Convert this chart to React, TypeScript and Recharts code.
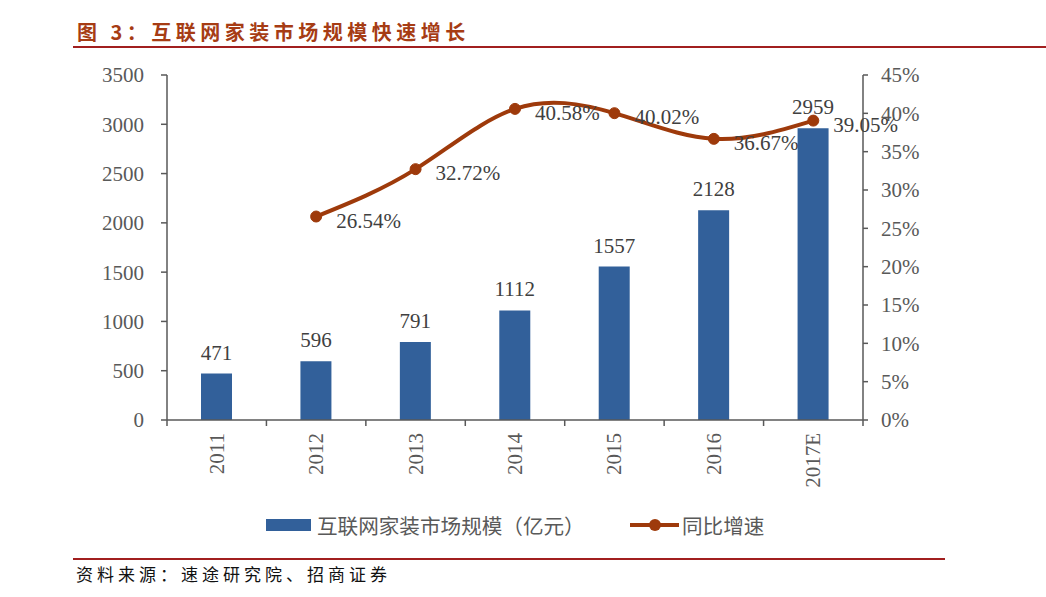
import React from 'react';
import { ComposedChart, Bar, Line, XAxis, YAxis, LabelList } from 'recharts';

// Data
const years = ['2011', '2012', '2013', '2014', '2015', '2016', '2017E'];
const marketSize = [471, 596, 791, 1112, 1557, 2128, 2959];
const growthRate = [null, 26.54, 32.72, 40.58, 40.02, 36.67, 39.05];
const leftTicks = [0, 500, 1000, 1500, 2000, 2500, 3000, 3500];
const rightTicks = [0, 5, 10, 15, 20, 25, 30, 35, 40, 45];

const data = years.map((year, i) => ({
  year,
  size: marketSize[i],
  growth: growthRate[i],
}));

const W = 1046;
const H = 597;
const PLOT_LEFT = 167;
const PLOT_RIGHT = 863;
const PLOT_TOP = 75;
const PLOT_BOTTOM = 420;
const BAND = (PLOT_RIGHT - PLOT_LEFT) / years.length;

const BAR_COLOR = '#32609A';
const LINE_COLOR = '#9E3A0B';
const AXIS_COLOR = '#595959';
const LABEL_COLOR = '#404040';
const SERIF = '"Liberation Serif", "Times New Roman", serif';
const CJK = '"Noto Sans CJK SC", "Noto Sans", sans-serif';

const YearTick = (props: any) => {
  const { x, y, payload, index } = props;
  const ty = y + 13;
  return (
    <g>
      {index === 0 && (
        <line x1={x - BAND / 2} y1={y} x2={x - BAND / 2} y2={y + 6} stroke={AXIS_COLOR} strokeWidth={1.5} />
      )}
      <line x1={x + BAND / 2} y1={y} x2={x + BAND / 2} y2={y + 6} stroke={AXIS_COLOR} strokeWidth={1.5} />
      <text
        x={x}
        y={ty}
        transform={`rotate(-90 ${x} ${ty})`}
        textAnchor="end"
        dominantBaseline="central"
        fill={AXIS_COLOR}
        fontSize={21}
        fontFamily={SERIF}
      >
        {payload.value}
      </text>
    </g>
  );
};

const SizeLabel = (props: any) => {
  const { x, y, width, value } = props;
  return (
    <text x={x + width / 2} y={y - 14} textAnchor="middle" fill={LABEL_COLOR} fontSize={21} fontFamily={SERIF}>
      {value}
    </text>
  );
};

const GrowthLabel = (props: any) => {
  const { x, y, value } = props;
  if (value == null) return null;
  return (
    <text x={x + 20} y={y + 4} dominantBaseline="central" fill={LABEL_COLOR} fontSize={21} fontFamily={SERIF}>
      {value.toFixed(2)}%
    </text>
  );
};

export default function App() {
  return (
    <div style={{ position: 'absolute', left: 0, top: 0, width: W, height: H, background: '#fff', overflow: 'hidden' }}>
      {/* title */}
      <div
        style={{
          position: 'absolute',
          left: 77,
          top: 22,
          fontFamily: CJK,
          fontSize: 20,
          lineHeight: '20px',
          fontWeight: 700,
          letterSpacing: 4.5,
          color: '#A63C14',
          whiteSpace: 'nowrap',
        }}
      >
        图 3：互联网家装市场规模快速增长
      </div>
      <div style={{ position: 'absolute', left: 73, top: 46, width: W - 73, height: 2, background: '#A11F1F' }} />

      <ComposedChart
        width={W}
        height={H}
        data={data}
        margin={{ top: PLOT_TOP, left: PLOT_LEFT - 80, right: W - PLOT_RIGHT - 80, bottom: H - PLOT_BOTTOM - 60 }}
      >
        <XAxis
          dataKey="year"
          height={60}
          interval={0}
          tickLine={false}
          tickSize={0}
          tickMargin={0}
          axisLine={{ stroke: AXIS_COLOR, strokeWidth: 1.5 }}
          tick={<YearTick />}
        />
        <YAxis
          yAxisId="left"
          width={80}
          domain={[0, 3500]}
          ticks={leftTicks}
          interval={0}
          tickSize={6}
          tickMargin={17}
          axisLine={{ stroke: AXIS_COLOR, strokeWidth: 1.5 }}
          tickLine={{ stroke: AXIS_COLOR, strokeWidth: 1.5 }}
          tick={{ fill: AXIS_COLOR, fontSize: 21, fontFamily: SERIF }}
        />
        <YAxis
          yAxisId="right"
          orientation="right"
          width={80}
          domain={[0, 45]}
          ticks={rightTicks}
          interval={0}
          tickSize={5}
          tickMargin={13}
          tickFormatter={(v) => `${v}%`}
          axisLine={{ stroke: AXIS_COLOR, strokeWidth: 1.5 }}
          tickLine={{ stroke: AXIS_COLOR, strokeWidth: 1.5 }}
          tick={{ fill: AXIS_COLOR, fontSize: 21, fontFamily: SERIF }}
        />
        <Bar yAxisId="left" dataKey="size" fill={BAR_COLOR} barSize={31} isAnimationActive={false}>
          <LabelList dataKey="size" content={<SizeLabel />} />
        </Bar>
        <Line
          yAxisId="right"
          type="natural"
          dataKey="growth"
          stroke={LINE_COLOR}
          strokeWidth={4}
          dot={{ r: 5.5, fill: LINE_COLOR, stroke: LINE_COLOR, strokeWidth: 1 }}
          activeDot={false}
          isAnimationActive={false}
        >
          <LabelList dataKey="growth" content={<GrowthLabel />} />
        </Line>
      </ComposedChart>

      {/* legend */}
      <div style={{ position: 'absolute', left: 266, top: 519, width: 45, height: 12, background: BAR_COLOR }} />
      <div
        style={{
          position: 'absolute',
          left: 317,
          top: 514,
          fontFamily: CJK,
          fontSize: 20.6,
          lineHeight: '22px',
          color: AXIS_COLOR,
          whiteSpace: 'nowrap',
        }}
      >
        互联网家装市场规模（亿元）
      </div>
      <div style={{ position: 'absolute', left: 630, top: 523, width: 49, height: 4, background: LINE_COLOR }} />
      <div
        style={{ position: 'absolute', left: 649, top: 519, width: 12, height: 12, borderRadius: 6, background: LINE_COLOR }}
      />
      <div
        style={{
          position: 'absolute',
          left: 682,
          top: 514,
          fontFamily: CJK,
          fontSize: 20.6,
          lineHeight: '22px',
          color: AXIS_COLOR,
          whiteSpace: 'nowrap',
        }}
      >
        同比增速
      </div>

      {/* source */}
      <div style={{ position: 'absolute', left: 73, top: 558, width: 945 - 73, height: 2, background: '#A11F1F' }} />
      <div
        style={{
          position: 'absolute',
          left: 76,
          top: 565,
          fontFamily: CJK,
          fontSize: 17,
          lineHeight: '17px',
          letterSpacing: 4,
          color: '#111',
          whiteSpace: 'nowrap',
        }}
      >
        资料来源：速途研究院、招商证券
      </div>
    </div>
  );
}
